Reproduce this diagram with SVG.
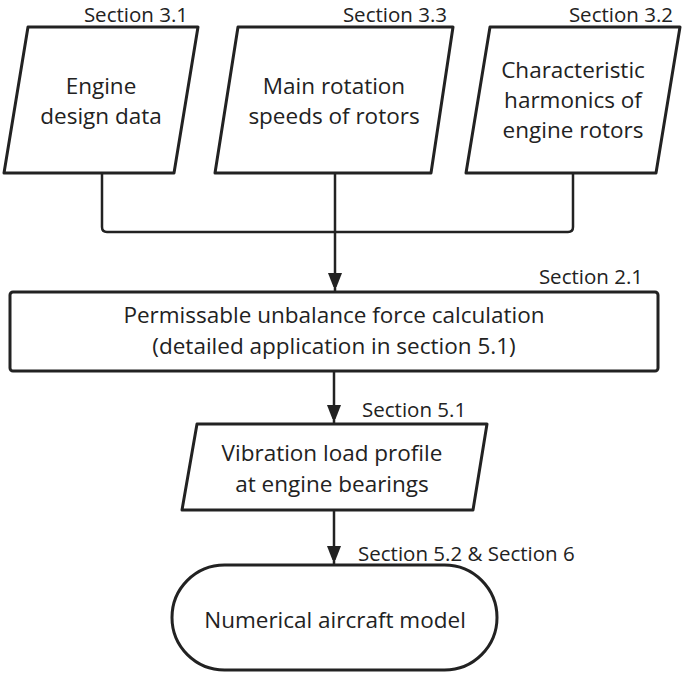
<svg xmlns="http://www.w3.org/2000/svg" width="685" height="675" viewBox="0 0 685 675">
<style>
.shape{fill:#fff;stroke:#222;stroke-width:3;stroke-linejoin:round}
.conn{fill:none;stroke:#222;stroke-width:2.5;stroke-linejoin:round}
text{font-family:"Open Sans","Liberation Sans",Arial,sans-serif;fill:#222}
.t{font-size:22.5px;text-anchor:middle}
.sec{font-size:20.5px;text-anchor:end}
.secl{font-size:20.5px;text-anchor:start}
</style>
<defs>
<marker id="ah" markerUnits="userSpaceOnUse" markerWidth="14" markerHeight="18" viewBox="0 0 14 18" refX="18" refY="7" orient="auto">
<path d="M0,0 L18,7 L0,14 Z" fill="#222"/>
</marker>
</defs>
<rect width="685" height="675" fill="#fff"/>
<g id="connectors">
<path class="conn" d="M102,173 V227 Q102,232 107,232 H568 Q573,232 573,227 V173"/>
<path class="conn" d="M335,173 V291" marker-end="url(#ah)"/>
<path class="conn" d="M334,371 V423" marker-end="url(#ah)"/>
<path class="conn" d="M334,510 V564" marker-end="url(#ah)"/>
</g>
<g id="engine-design-data">
<polygon class="shape" points="28,27 198,27 174,173 4,173"/>
<text class="t" x="101" y="94">Engine</text>
<text class="t" x="101" y="124">design data</text>
<text class="sec" x="188" y="22">Section 3.1</text>
</g>
<g id="main-rotation-speeds">
<polygon class="shape" points="238,27 453,27 431,173 215,173"/>
<text class="t" x="334" y="94">Main rotation</text>
<text class="t" x="334" y="124">speeds of rotors</text>
<text class="sec" x="447" y="22">Section 3.3</text>
</g>
<g id="characteristic-harmonics">
<polygon class="shape" points="490,27 680,27 656,173 466,173"/>
<text class="t" x="573" y="78">Characteristic</text>
<text class="t" x="573" y="108">harmonics of</text>
<text class="t" x="573" y="138">engine rotors</text>
<text class="sec" x="673" y="22">Section 3.2</text>
</g>
<g id="unbalance-force-calculation">
<rect class="shape" x="10" y="292" width="648" height="79" rx="3"/>
<text class="t" x="334" y="323">Permissable unbalance force calculation</text>
<text class="t" x="334" y="354">(detailed application in section 5.1)</text>
<text class="sec" x="643" y="284">Section 2.1</text>
</g>
<g id="vibration-load-profile">
<polygon class="shape" points="197,424 487,424 473,510 182,510"/>
<text class="t" x="332" y="461">Vibration load profile</text>
<text class="t" x="332" y="492">at engine bearings</text>
<text class="secl" x="362" y="417">Section 5.1</text>
</g>
<g id="numerical-aircraft-model">
<rect class="shape" x="172" y="565" width="325" height="105" rx="52.5"/>
<text class="t" x="335" y="628">Numerical aircraft model</text>
<text class="secl" x="358" y="561">Section 5.2 &amp; Section 6</text>
</g>
</svg>
